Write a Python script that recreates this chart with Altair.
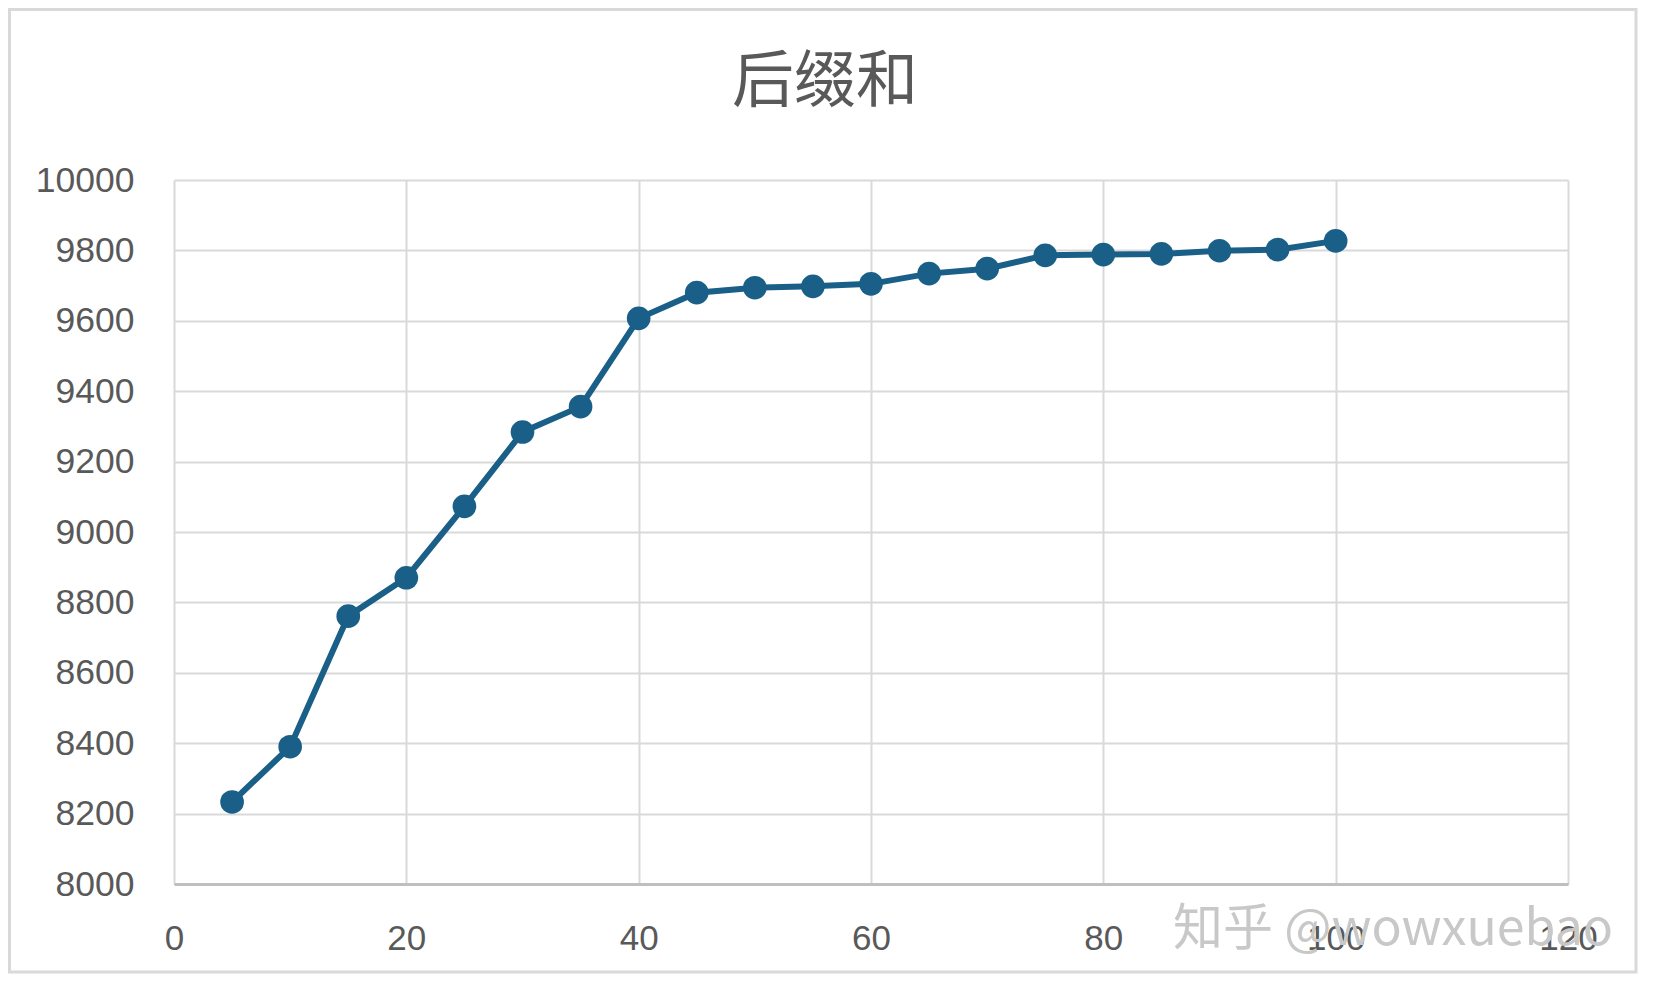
import altair as alt
import pandas as pd

# data
xs = [5, 10, 15, 20, 25, 30, 35, 40, 45, 50, 55, 60, 65, 70, 75, 80, 85, 90, 95, 100]
ys = [8233, 8390, 8761, 8870, 9073, 9284, 9356, 9607, 9680, 9694, 9698, 9705,
      9734, 9748, 9786, 9788, 9790, 9799, 9802, 9827]
x_ticks = [0, 20, 40, 60, 80, 100, 120]
y_ticks = [8000, 8200, 8400, 8600, 8800, 9000, 9200, 9400, 9600, 9800, 10000]
title_text = ["后缀和"]
watermark_text = ["知乎 @wowxuebao"]

df = pd.DataFrame({"x": xs, "y": ys})

LINE_COLOR = "#1a5f87"
TEXT_COLOR = "#595959"
FONT = "Liberation Sans"

xenc = alt.X("x:Q",
             scale=alt.Scale(domain=[0, 120], nice=False, zero=False),
             axis=alt.Axis(values=x_ticks, title=None, grid=True, gridColor="#d9d9d9", gridWidth=2,
                           domain=True, domainColor="#bfbfbf", domainWidth=3,
                           ticks=False, tickSize=0, labelFontSize=35, labelColor=TEXT_COLOR,
                           labelFont=FONT, labelPadding=37, labelBaseline="top", format="d",
                           labelFlush=False, labelOverlap=False))
yenc = alt.Y("y:Q",
             scale=alt.Scale(domain=[8000, 10000], nice=False, zero=False),
             axis=alt.Axis(values=y_ticks, title=None, grid=True, gridColor="#d9d9d9", gridWidth=2,
                           domain=False, ticks=False, tickSize=0, labelFontSize=35.5,
                           labelColor=TEXT_COLOR, labelFont=FONT, labelPadding=40, format="d",
                           labelFlush=False, labelOverlap=False))

base = alt.Chart(df)
line = base.mark_line(color=LINE_COLOR, strokeWidth=6).encode(x=xenc, y=yenc)
points = base.mark_circle(color=LINE_COLOR, opacity=1, size=560).encode(x="x:Q", y="y:Q")

title = alt.Chart(pd.DataFrame({"t": title_text})).mark_text(
    font="Noto Sans CJK SC", fontSize=62, color=TEXT_COLOR, align="center", baseline="alphabetic"
).encode(text="t:N", x=alt.value(651), y=alt.value(-78))

watermark = alt.Chart(pd.DataFrame({"t": watermark_text})).mark_text(
    font="Noto Sans CJK SC", fontSize=50, color="#c8c8c8", align="left", baseline="alphabetic"
).encode(text="t:N", x=alt.value(999), y=alt.value(765))

border = alt.Chart(pd.DataFrame({"b": [1]})).mark_rect(
    filled=False, stroke="#d9d9d9", strokeWidth=3
).encode(x=alt.value(-164.5), x2=alt.value(1462), y=alt.value(-170.5), y2=alt.value(792))

chart = alt.layer(border, line, points, title, watermark).properties(
    width=1394, height=704,
    autosize=alt.AutoSizeParams(type="none"),
    padding={"left": 166, "top": 172, "right": 70, "bottom": 90},
    background="white",
).configure_view(strokeWidth=0)

chart.save("out.html", embed_options={"renderer": "svg", "actions": False})
